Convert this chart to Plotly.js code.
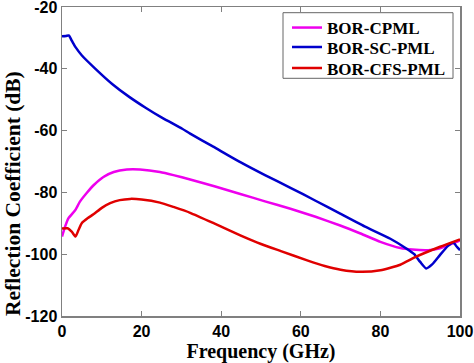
<!DOCTYPE html>
<html><head><meta charset="utf-8">
<script src="https://cdn.plot.ly/plotly-3.0.1.min.js"></script>
<style>body{margin:0;background:#fff}#plot{width:474px;height:363px}</style>
</head><body><div id="plot"></div>
<script>
const seriesNames = ['BOR-CPML', 'BOR-SC-PML', 'BOR-CFS-PML'];

const cpmlFreq = [0,0.8,1.6,3.3,4.5,6.2,8,10.4,13,16.3,19.6,24.6,28,32.2,38.5,44.8,51,57.4,63.7,69.9,75,80,85,88,92,95,98,100];
const cpmlDb   = [-94.3,-91,-88.4,-85.8,-83,-80.2,-77.6,-75,-73.4,-72.6,-72.6,-73.4,-74.4,-75.8,-78.1,-80.5,-82.9,-85.3,-87.9,-90.7,-93.3,-96,-98,-98.5,-98.7,-98.1,-96.6,-95.5];

const scFreq = [0,1,1.7,2.5,3.4,5,8.4,12.6,16.8,21,25.2,30.2,32.2,38,44.8,51,57.4,63.7,69.9,76,82.5,86.7,88.5,90,91.5,93,95,97,98.3,99.2,100];
const scDb   = [-29.5,-29.4,-29.2,-31,-33,-35.7,-40,-44.9,-49,-52.6,-55.9,-59.4,-61,-65.2,-70.2,-74.4,-78.5,-82.7,-86.9,-91,-95,-98.3,-100,-102.5,-104.6,-103.3,-100.2,-97.3,-96.2,-97.6,-98.7];

const cfsFreq = [0,1.4,2.5,3.4,4.2,5,6.5,7.9,10,12.1,14.5,17.1,20,24.6,28,32.2,38.5,44.8,50,55,61.6,66,70,75,80,85,89,95,100];
const cfsDb   = [-91.7,-91.6,-92.8,-94.3,-92,-89.9,-88.3,-87.1,-85,-83.5,-82.5,-82.1,-82.3,-83.3,-84.7,-86.6,-90.2,-93.9,-96.7,-99,-102,-103.8,-105,-105.7,-105.2,-103.4,-100.8,-97.6,-95.2];

const xTicks = [0,20,40,60,80,100];
const yTicks = [-120,-100,-80,-60,-40,-20];

const colors = ['#ee00ee', '#0000cc', '#e00000'];
const legendIds = ['legend', 'legend2', 'legend3'];

const traces = [
  {x: cpmlFreq, y: cpmlDb, name: seriesNames[0]},
  {x: scFreq, y: scDb, name: seriesNames[1]},
  {x: cfsFreq, y: cfsDb, name: seriesNames[2]}
].map((t, i) => Object.assign(t, {
  type: 'scatter', mode: 'lines', legend: legendIds[i],
  line: {color: colors[i], width: 2.5, shape: 'spline', smoothing: 0.5}
}));

const serif = 'Times New Roman';
const sans = 'Arial';
const T = 7, H = 309, L = 62, W = 398;

const axisCommon = {
  showgrid: false, zeroline: false, showline: true, linecolor: '#808080', linewidth: 1.5,
  mirror: 'ticks', ticks: 'inside', ticklen: 5, tickcolor: '#808080', tickwidth: 1,
  ticklabeloverflow: 'allow',
  tickfont: {family: sans, size: 16, color: '#000', weight: 'bold'}
};

function legendAt(topPx) {
  return {
    x: (287 - L) / W, xanchor: 'left', y: 1 - (topPx - T) / H, yanchor: 'top',
    bgcolor: 'rgba(0,0,0,0)', borderwidth: 0,
    font: {family: serif, size: 17, color: '#000', weight: 'bold'},
    itemwidth: 30
  };
}

const layout = {
  width: 474, height: 363,
  margin: {l: L, r: 474 - L - W, t: T, b: 363 - T - H},
  paper_bgcolor: '#fff', plot_bgcolor: '#fff',
  showlegend: true,
  legend: legendAt(10),
  legend2: legendAt(29.5),
  legend3: legendAt(50.5),
  shapes: [{
    type: 'rect', xref: 'paper', yref: 'paper', layer: 'above',
    x0: (283 - L) / W, x1: (453 - L) / W,
    y0: 1 - (78.3 - T) / H, y1: 1 - (12.7 - T) / H,
    line: {color: '#666', width: 1}, fillcolor: '#fff'
  }],
  annotations: [{
    text: 'Reflection Coefficient (dB)', textangle: -90, showarrow: false,
    xref: 'paper', yref: 'paper', x: (13 - L) / W, y: 1 - (194 - T) / H,
    xanchor: 'center', yanchor: 'middle',
    font: {family: serif, size: 21.5, color: '#000', weight: 'bold'}
  }],
  xaxis: Object.assign({}, axisCommon, {
    range: [0, 100], tickvals: xTicks, ticktext: xTicks.map(String),
    title: {text: 'Frequency (GHz)', standoff: 2, font: {family: serif, size: 20, color: '#000', weight: 'bold'}}
  }),
  yaxis: Object.assign({}, axisCommon, {
    range: [-120, -20], tickvals: yTicks, ticktext: yTicks.map(String)
  })
};

Plotly.newPlot('plot', traces, layout, {displayModeBar: false, staticPlot: true});
</script>
</body></html>
